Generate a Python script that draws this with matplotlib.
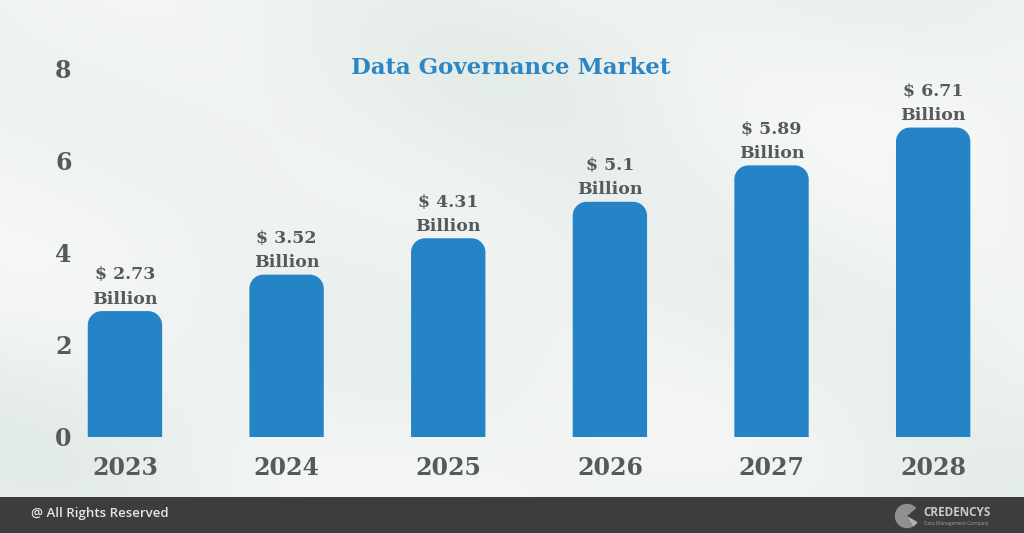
import numpy as np
import matplotlib
matplotlib.use("Agg")
import matplotlib.pyplot as plt
from matplotlib.path import Path
from matplotlib.patches import PathPatch, Rectangle, Wedge
from matplotlib.colors import LinearSegmentedColormap

years = ["2023", "2024", "2025", "2026", "2027", "2028"]
values = [2.73, 3.52, 4.31, 5.1, 5.89, 6.71]
value_labels = ["$ 2.73\nBillion", "$ 3.52\nBillion", "$ 4.31\nBillion",
                "$ 5.1\nBillion", "$ 5.89\nBillion", "$ 6.71\nBillion"]
yticks = [0, 2, 4, 6, 8]

W, H = 1024, 533
fig = plt.figure(figsize=(W / 100, H / 100), dpi=100)

# background texture (smooth, deterministic)
bg = fig.add_axes([0, 0, 1, 1], zorder=-10)
gx, gy = np.meshgrid(np.linspace(0, 1, 400), np.linspace(0, 1, 220))
field = (np.sin(gx * 7.0 + 1.3) * np.cos(gy * 5.0 - 0.4)
         + 0.6 * np.sin(gx * 13 + gy * 9) + 0.4 * np.cos(gx * 4 - gy * 11 + 2))
field = (field - field.min()) / (field.max() - field.min())
cmap = LinearSegmentedColormap.from_list("bgc", ["#f6f8f7", "#eef2f0", "#e3ebe7"])
bg.imshow(field, cmap=cmap, aspect="auto", extent=[0, 1, 0, 1], origin="lower")
bg.set_xlim(0, 1); bg.set_ylim(0, 1)
bg.axis("off")

# footer
fig.patches.append(Rectangle((0, 0), 1, 36 / H, transform=fig.transFigure,
                             facecolor="#3d3d3d", edgecolor="none", zorder=1))
fig.text(31 / W, 1 - 513 / H, "@ All Rights Reserved", color="#e6e6e6",
         fontsize=9.5, fontweight="semibold", family="Open Sans",
         va="center", ha="left", zorder=2)

ax = fig.add_axes([80 / W, (H - 437) / H, 934 / W, (437 - 45) / H])
ax.set_facecolor("none")
x = np.arange(len(years))
bars = ax.bar(x, values, width=0.46, color="none", edgecolor="none")
ax.set_xlim(-0.278, 5.5)
ax.set_ylim(0, 8.5)

# rounded-top bars built from the bar geometry
px_per_x = 934 / (5.5 + 0.278)
px_per_y = (437 - 45) / 8.5
r_px = 14
rx, ry = r_px / px_per_x, r_px / px_per_y
k = 0.5523
for b in bars:
    x0, w, h = b.get_x(), b.get_width(), b.get_height()
    x1 = x0 + w
    verts = [(x0, 0), (x0, h - ry),
             (x0, h - ry + k * ry), (x0 + rx - k * rx, h), (x0 + rx, h),
             (x1 - rx, h),
             (x1 - rx + k * rx, h), (x1, h - ry + k * ry), (x1, h - ry),
             (x1, 0), (x0, 0)]
    codes = [Path.MOVETO, Path.LINETO,
             Path.CURVE4, Path.CURVE4, Path.CURVE4,
             Path.LINETO,
             Path.CURVE4, Path.CURVE4, Path.CURVE4,
             Path.LINETO, Path.CLOSEPOLY]
    ax.add_patch(PathPatch(Path(verts, codes), facecolor="#2484c6", edgecolor="none"))

for xi, v, lab in zip(x, values, value_labels):
    ax.annotate(lab, (xi, v), xytext=(0, 2.5), textcoords="offset points",
                ha="center", va="bottom", fontsize=12.5, fontweight="bold",
                family="DejaVu Serif", color="#555b5a", linespacing=1.55)

ax.set_xticks(x)
ax.set_xticklabels(years, fontsize=17, fontweight="bold", family="DejaVu Serif",
                   color="#555b5a")
ax.set_yticks(yticks)
ax.set_yticklabels([str(t) for t in yticks], fontsize=17, fontweight="bold",
                   family="DejaVu Serif", color="#555b5a")
ax.tick_params(axis="x", length=0, pad=14)
ax.tick_params(axis="y", length=0, pad=6)
for s in ax.spines.values():
    s.set_visible(False)

fig.text(511 / W, 1 - 68 / H, "Data Governance Market", ha="center", va="center",
         fontsize=16.5, fontweight="bold", family="DejaVu Serif", color="#2b86c4")

# logo
logo_ax = fig.add_axes([894 / W, (H - 529) / H, 26 / W, 26 / H], zorder=3)
logo_ax.add_patch(Wedge((0.5, 0.5), 0.47, 40, 300, facecolor="#909090", edgecolor="none"))
logo_ax.add_patch(Wedge((0.5, 0.5), 0.47, 300, 330, facecolor="#b5b5b5", edgecolor="none"))
logo_ax.set_xlim(0, 1); logo_ax.set_ylim(0, 1); logo_ax.axis("off")
fig.text(923 / W, 1 - 512 / H, "CREDENCYS", color="#c9c9c9", fontsize=8.5,
         fontweight="bold", family="Open Sans", ha="left", va="center", zorder=3)
fig.text(924 / W, 1 - 523 / H, "Data Management Company", color="#a0a0a0",
         fontsize=3.5, family="Open Sans", ha="left", va="center", zorder=3)

fig.savefig("out.png", dpi=100)
